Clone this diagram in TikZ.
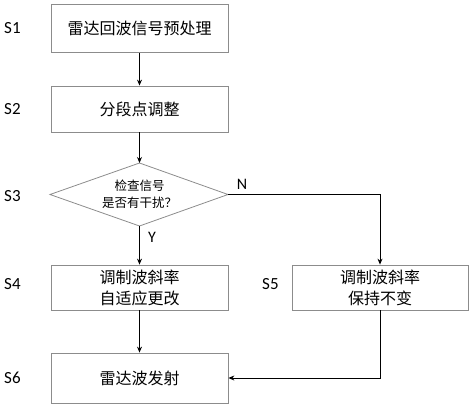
\documentclass[tikz,border=0pt]{standalone}
\usepackage{fontspec}
\setmainfont{Carlito}
\newfontfamily\cjk{Noto Sans CJK SC}
\usetikzlibrary{shapes.geometric,arrows.meta}
\begin{document}
\begin{tikzpicture}[x=1pt,y=-1pt,
  box/.style={draw=black!45,line width=0.8pt,minimum width=177pt,minimum height=48pt,inner sep=0pt,font=\cjk\fontsize{16}{21}\selectfont,align=center},
  lab/.style={font=\fontsize{17}{20}\selectfont,anchor=west,inner sep=0pt},
  yn/.style={font=\fontsize{16}{19}\selectfont,inner sep=0pt},
  arr/.style={draw=black,line width=0.9pt,-{Stealth[length=6pt,width=5pt]}}]
\useasboundingbox (0,0) rectangle (474,409);
\node[box] (s1) at (139.5,28.5) {雷达回波信号预处理};
\node[box,minimum height=46pt] (s2) at (139.5,109) {分段点调整};
\coordinate (dt) at (139.5,163);
\coordinate (db) at (139.5,226);
\coordinate (dl) at (50,194.5);
\coordinate (dr) at (228,194.5);
\draw[draw=black!45,line width=0.8pt] (dt) -- (dr) -- (db) -- (dl) -- cycle;
\node[font=\cjk\fontsize{12.5}{17}\selectfont,align=center] (s3) at (139.5,194.5) {检查信号\\是否有干扰？};
\node[box,minimum height=45pt] (s4) at (139.5,287.5) {调制波斜率\\自适应更改};
\node[box,minimum height=45pt,minimum width=176pt] (s5) at (380,287.5) {调制波斜率\\保持不变};
\node[box,minimum height=50pt] (s6) at (139.5,378) {雷达波发射};
\node[lab] (l1) at (4,28.5) {S1};
\node[lab] (l2) at (4,109) {S2};
\node[lab] (l3) at (4,196) {S3};
\node[lab] (l4) at (4,284) {S4};
\node[lab] (l5) at (262,284) {S5};
\node[lab] (l6) at (4,378) {S6};
\node[yn] (n) at (242,184) {N};
\node[yn] (y) at (152,237) {Y};
\draw[arr] (s1) -- (s2);
\draw[arr] (s2) -- (dt);
\draw[arr] (db) -- (s4);
\draw[arr] (dr) -| (s5);
\draw[arr] (s4) -- (s6);
\draw[arr] (s5.south) |- (s6.east);
\end{tikzpicture}
\end{document}
